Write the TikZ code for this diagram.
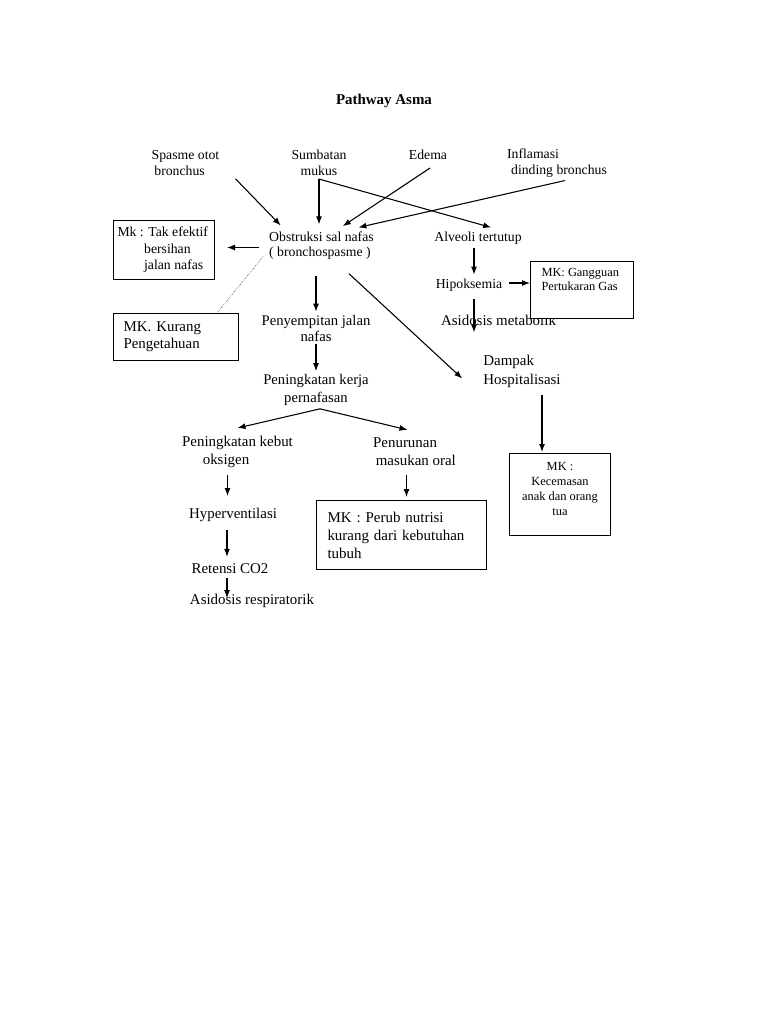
\documentclass[tikz,border=0pt]{standalone}
\usepackage{fontspec}
\setmainfont{Liberation Serif}
\usetikzlibrary{arrows.meta}

\begin{document}
\begin{tikzpicture}[x=0.75pt, y=-0.75pt, line width=0.8pt, >={Latex[length=6pt,width=4.5pt]},
  sml/.style={font=\fontsize{10.3}{11.5}\selectfont, inner sep=2pt, align=center},
  lbl/.style={font=\fontsize{11.2}{13.5}\selectfont, inner sep=2pt, align=center},
  mkbox/.style={draw, line width=0.75pt, fill=white, anchor=north west, inner sep=0pt}]
\useasboundingbox (0,0) rectangle (768,1024);
\node[font=\bfseries\fontsize{11.2}{13}\selectfont] (title) at (384,101) {Pathway Asma};
\node[sml, align=left, font=\fontsize{10.3}{12}\selectfont] (spasme) at (185.5,163) {Spasme otot\\\hspace*{2pt}bronchus};
\node[sml, font=\fontsize{10.3}{12}\selectfont] (sumbatan) at (319,163) {Sumbatan\\mukus};
\node[sml] (edema) at (428,155) {Edema};
\node[sml, align=left, font=\fontsize{10.3}{12}\selectfont] (inflamasi) at (557,163) {Inflamasi\\\hspace*{3pt}dinding bronchus};
\node[sml, align=left] (obstruksi) at (321.5,245.5) {Obstruksi sal nafas\\( bronchospasme )};
\node[sml] (alveoli) at (478,238) {Alveoli tertutup};
\node[sml] (hipoksemia) at (469,285) {Hipoksemia};
\node[lbl] (metabolik) at (498.5,320) {Asidosis metabolik};
\node[lbl, font=\fontsize{11}{12}\selectfont] (penyempitan) at (316,328) {Penyempitan jalan\\nafas};
\node[lbl, font=\fontsize{11}{13.5}\selectfont] (kerja) at (316,390) {Peningkatan kerja\\pernafasan};
\node[lbl, align=left] (kebut) at (237.5,452) {Peningkatan kebut\\\hspace*{15.5pt}oksigen};
\node[lbl, align=left] (penurunan) at (414.5,452) {Penurunan\\\hspace*{2pt}masukan oral};
\node[lbl] (hyper) at (233,515) {Hyperventilasi};
\node[lbl] (retensi) at (230,569) {Retensi CO2};
\node[lbl] (respiratorik) at (252,601) {Asidosis respiratorik};
\node[lbl, align=left, font=\fontsize{11.2}{14}\selectfont] (dampak) at (522,371.5) {Dampak\\Hospitalisasi};
\node[mkbox, font=\fontsize{10.3}{12.4}\selectfont] (mk1) at (113,220) {\parbox[c][44.25pt][c]{75.75pt}{\raggedright\leftskip=3pt Mk : Tak efektif\\\hspace*{20pt}bersihan\\\hspace*{20pt}jalan nafas}};
\node[mkbox, minimum width=93.75pt, minimum height=35.25pt, text width=78.75pt, inner xsep=7.5pt, align=left, font=\fontsize{11.2}{12.75}\selectfont] (mk2) at (113,313) {MK. Kurang\\Pengetahuan};
\node[mkbox, font=\fontsize{9.3}{10.5}\selectfont] (mk3) at (530,261) {\parbox[c][42.75pt][t]{77.25pt}{\raggedright\vspace*{5pt}\leftskip=8.25pt MK: Gangguan\\Pertukaran Gas}};
\node[mkbox, font=\fontsize{9.3}{11.25}\selectfont] (mk4) at (509,453) {\parbox[c][61.5pt][t]{75.75pt}{\centering\vspace*{7pt}MK :\\Kecemasan\\anak dan orang\\tua}};
\node[mkbox, minimum width=127.5pt, minimum height=51.75pt, text width=111pt, inner xsep=8.25pt, align=left, font=\fontsize{11.2}{13.5}\selectfont] (mk5) at (316,500) {MK : Perub nutrisi\\kurang dari kebutuhan\\tubuh};
\draw[->, shorten >=3pt] ([shift={(13,0)}]spasme.south east) -- ([shift={(-38,0)}]obstruksi.north);
\draw[->, shorten >=3pt] (sumbatan.south) -- (sumbatan.south |- obstruksi.north);
\draw[->, shorten >=3pt] (sumbatan.south) -- ([shift={(17,0)}]alveoli.north);
\draw[->, shorten >=3pt] ([shift={(2,5)}]edema.south) -- ([shift={(18,0)}]obstruksi.north);
\draw[->, shorten >=3pt] ([shift={(8,0)}]inflamasi.south) -- ([shift={(33,0)}]obstruksi.north);
\draw[->] ([shift={(-7,2)}]obstruksi.west) -- ([shift={(12,2)}]obstruksi.west -| mk1.east);
\draw[densely dotted, line width=0.4pt] ([shift={(-3,-6)}]obstruksi.south west) -- ([shift={(-22,0)}]mk2.north east);
\draw[->, shorten <=10pt] (obstruksi.south -| penyempitan.north) -- (penyempitan.north);
\draw[->] ([shift={(-28,11)}]obstruksi.south east) -- ([shift={(-18,7)}]dampak.west);
\draw[->] (penyempitan.south) -- (kerja.north);
\draw[->] ([shift={(4,0)}]kerja.south) -- ([shift={(0,-5)}]kebut.north);
\draw[->] ([shift={(4,0)}]kerja.south) -- ([shift={(-7,-5)}]penurunan.north);
\draw[->] ([shift={(-10,4)}]kebut.south) -- ([shift={(-10,-9)}]kebut.south |- hyper.north);
\draw[->] ([shift={(-6,5)}]hyper.south) -- ([shift={(-6,-4)}]hyper.south |- retensi.north);
\draw[->] ([shift={(-3,1)}]retensi.south) -- ([shift={(-3,7)}]retensi.south |- respiratorik.north);
\draw[->] ([shift={(-8,6)}]penurunan.south) -- ([shift={(-8,-3)}]penurunan.south |- mk5.north);
\draw[->] ([shift={(20,4)}]dampak.south) -- ([shift={(20,-1)}]dampak.south |- mk4.north);
\draw[->] ([shift={(-4,1)}]alveoli.south) -- ([shift={(-4,-1)}]alveoli.south |- hipoksemia.north);
\draw[->] ([shift={(4,-2)}]hipoksemia.east) -- ([shift={(0,-2)}]hipoksemia.east -| mk3.west);
\draw[->] ([shift={(5,5)}]hipoksemia.south) -- ([shift={(5,4)}]hipoksemia.south |- metabolik.south);
\end{tikzpicture}
\end{document}
